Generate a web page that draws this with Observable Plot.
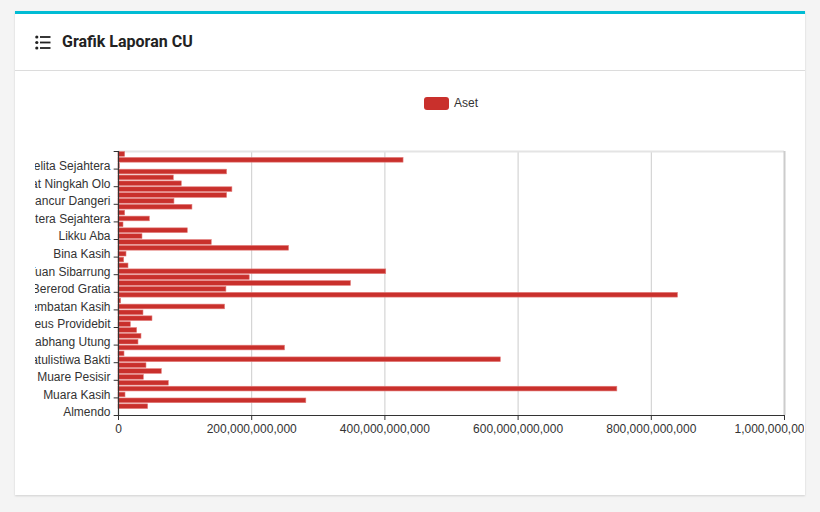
<!DOCTYPE html>
<html>
<head>
<meta charset="utf-8">
<script src="https://cdn.jsdelivr.net/npm/d3@7"></script>
<script src="https://cdn.jsdelivr.net/npm/@observablehq/plot@0.6"></script>
<style>
  html, body { margin: 0; padding: 0; background: #f4f4f4; width: 820px; height: 512px; overflow: hidden; }
  #card { position: absolute; left: 15px; top: 11px; width: 790px; height: 481px; background: #fff;
          border-top: 3px solid #00bcd4; box-shadow: 0 1px 2px rgba(0,0,0,0.15); }
  #header { position: absolute; left: 15px; top: 14px; width: 790px; height: 56px; border-bottom: 1px solid #dcdcdc; }
  #title { position: absolute; left: 47px; top: 18px; font-family: Roboto, sans-serif; font-weight: 700;
           font-size: 16px; color: #222; line-height: 20px; }
  #icon { position: absolute; left: 20px; top: 21px; }
  #legend { position: absolute; left: 424px; top: 96px; font-family: "Liberation Sans", Arial, sans-serif;
            font-size: 12px; color: #333; display: flex; align-items: center; }
  #legend .sw { width: 25px; height: 13px; border-radius: 3px; background: #c9302c; margin-right: 5px; }
  #chartwrap { position: absolute; left: 35px; top: 141px; width: 769px; height: 304px; overflow: hidden; }
  #chartwrap svg { overflow: hidden; margin-left: -2px; max-width: none; }
</style>
</head>
<body>
<div id="card"></div>
<div id="header">
  <svg id="icon" width="16" height="15" viewBox="0 0 16 15">
    <circle cx="1.8" cy="2" r="1.6" fill="#222"/>
    <circle cx="1.8" cy="7.5" r="1.6" fill="#222"/>
    <circle cx="1.8" cy="13" r="1.6" fill="#222"/>
    <rect x="5" y="1.1" width="10.5" height="1.8" fill="#222"/>
    <rect x="5" y="6.6" width="10.5" height="1.8" fill="#222"/>
    <rect x="5" y="12.1" width="10.5" height="1.8" fill="#222"/>
  </svg>
  <div id="title">Grafik Laporan CU</div>
</div>
<div id="legend"><div class="sw"></div><span>Aset</span></div>
<div id="chartwrap"></div>
<script>
// Category names (top to bottom). Names at unlabeled positions are not shown on the chart.
const categories = [
  "CU 01", "CU 02", "Pelita Sejahtera",
  "CU 04", "CU 05", "Sepakat Ningkah Olo",
  "CU 07", "CU 08", "Pancur Dangeri",
  "CU 10", "CU 11", "Bahtera Sejahtera",
  "CU 13", "CU 14", "Likku Aba",
  "CU 16", "CU 17", "Bina Kasih",
  "CU 19", "CU 20", "Tuan Sibarrung",
  "CU 22", "CU 23", "Bererod Gratia",
  "CU 25", "CU 26", "Jembatan Kasih",
  "CU 28", "CU 29", "Deus Providebit",
  "CU 31", "CU 32", "Sabhang Utung",
  "CU 34", "CU 35", "Khatulistiwa Bakti",
  "CU 37", "CU 38", "Muare Pesisir",
  "CU 40", "CU 41", "Muara Kasih",
  "CU 43", "CU 44", "Almendo"
];
// Aset values in billions of rupiah
const asetMiliar = [
  10, 428, 2,
  163, 83, 95,
  171, 163, 84,
  111, 10, 47,
  7.5, 104, 36,
  140, 256, 12,
  8.5, 15, 402,
  197, 349, 162,
  840, 4, 160,
  37.5, 51, 18.5,
  28, 34.5, 30,
  250, 9, 574,
  42, 65, 38,
  75.5, 749, 10.5,
  282, 44.5, 0
];
const labeledCategories = categories.filter((d, i) => i % 3 === 2);
const xTicks = [0, 200e9, 400e9, 600e9, 800e9, 1000e9];

const data = categories.map((name, i) => ({name, aset: asetMiliar[i] * 1e9}));

const marginTop = 10, marginBottom = 30, plotH = 264;
const step = plotH / categories.length;

const chart = Plot.plot({
  width: 772,
  height: marginTop + plotH + marginBottom,
  marginLeft: 85,
  marginRight: 21,
  marginTop,
  marginBottom,
  style: {fontFamily: "'Liberation Sans', Arial, sans-serif", fontSize: "12px", color: "#333", background: "transparent"},
  x: {domain: [0, 1e12]},
  y: {domain: categories, paddingInner: 0.2, paddingOuter: 0.1},
  marks: [
    Plot.gridX(xTicks, {stroke: "#cccccc", strokeOpacity: 1}),
    Plot.ruleY([categories[0]], {x1: 0, x2: 1e12, dy: -step / 2, stroke: "#e4e4e4", strokeWidth: 2}),
    Plot.ruleX([1e12], {stroke: "#cccccc", strokeWidth: 2}),
    Plot.barX(data, {y: "name", x: "aset", fill: "#c9302c", stroke: "#e27a78", strokeWidth: 0.6}),
    Plot.axisX({ticks: xTicks, tickFormat: d3.format(",.0f"), tickSize: 5, tickPadding: 4, label: null, fill: "#333", stroke: "#333"}),
    Plot.axisY({ticks: labeledCategories, tickSize: 0, tickPadding: 8, label: null, fill: "#333"}),
    Plot.ruleY(labeledCategories, {x1: -6.5e9, x2: 0, dy: step / 2, stroke: "#333"}),
    Plot.ruleY([categories[0]], {x1: -6.5e9, x2: 0, dy: -step / 2, stroke: "#333"}),
    Plot.ruleX([0], {stroke: "#333", strokeWidth: 1.2}),
    Plot.ruleY([categories[categories.length - 1]], {x1: 0, x2: 1e12, dy: step / 2, stroke: "#333", strokeWidth: 1.2})
  ]
});
document.getElementById("chartwrap").appendChild(chart);
</script>
</body>
</html>
